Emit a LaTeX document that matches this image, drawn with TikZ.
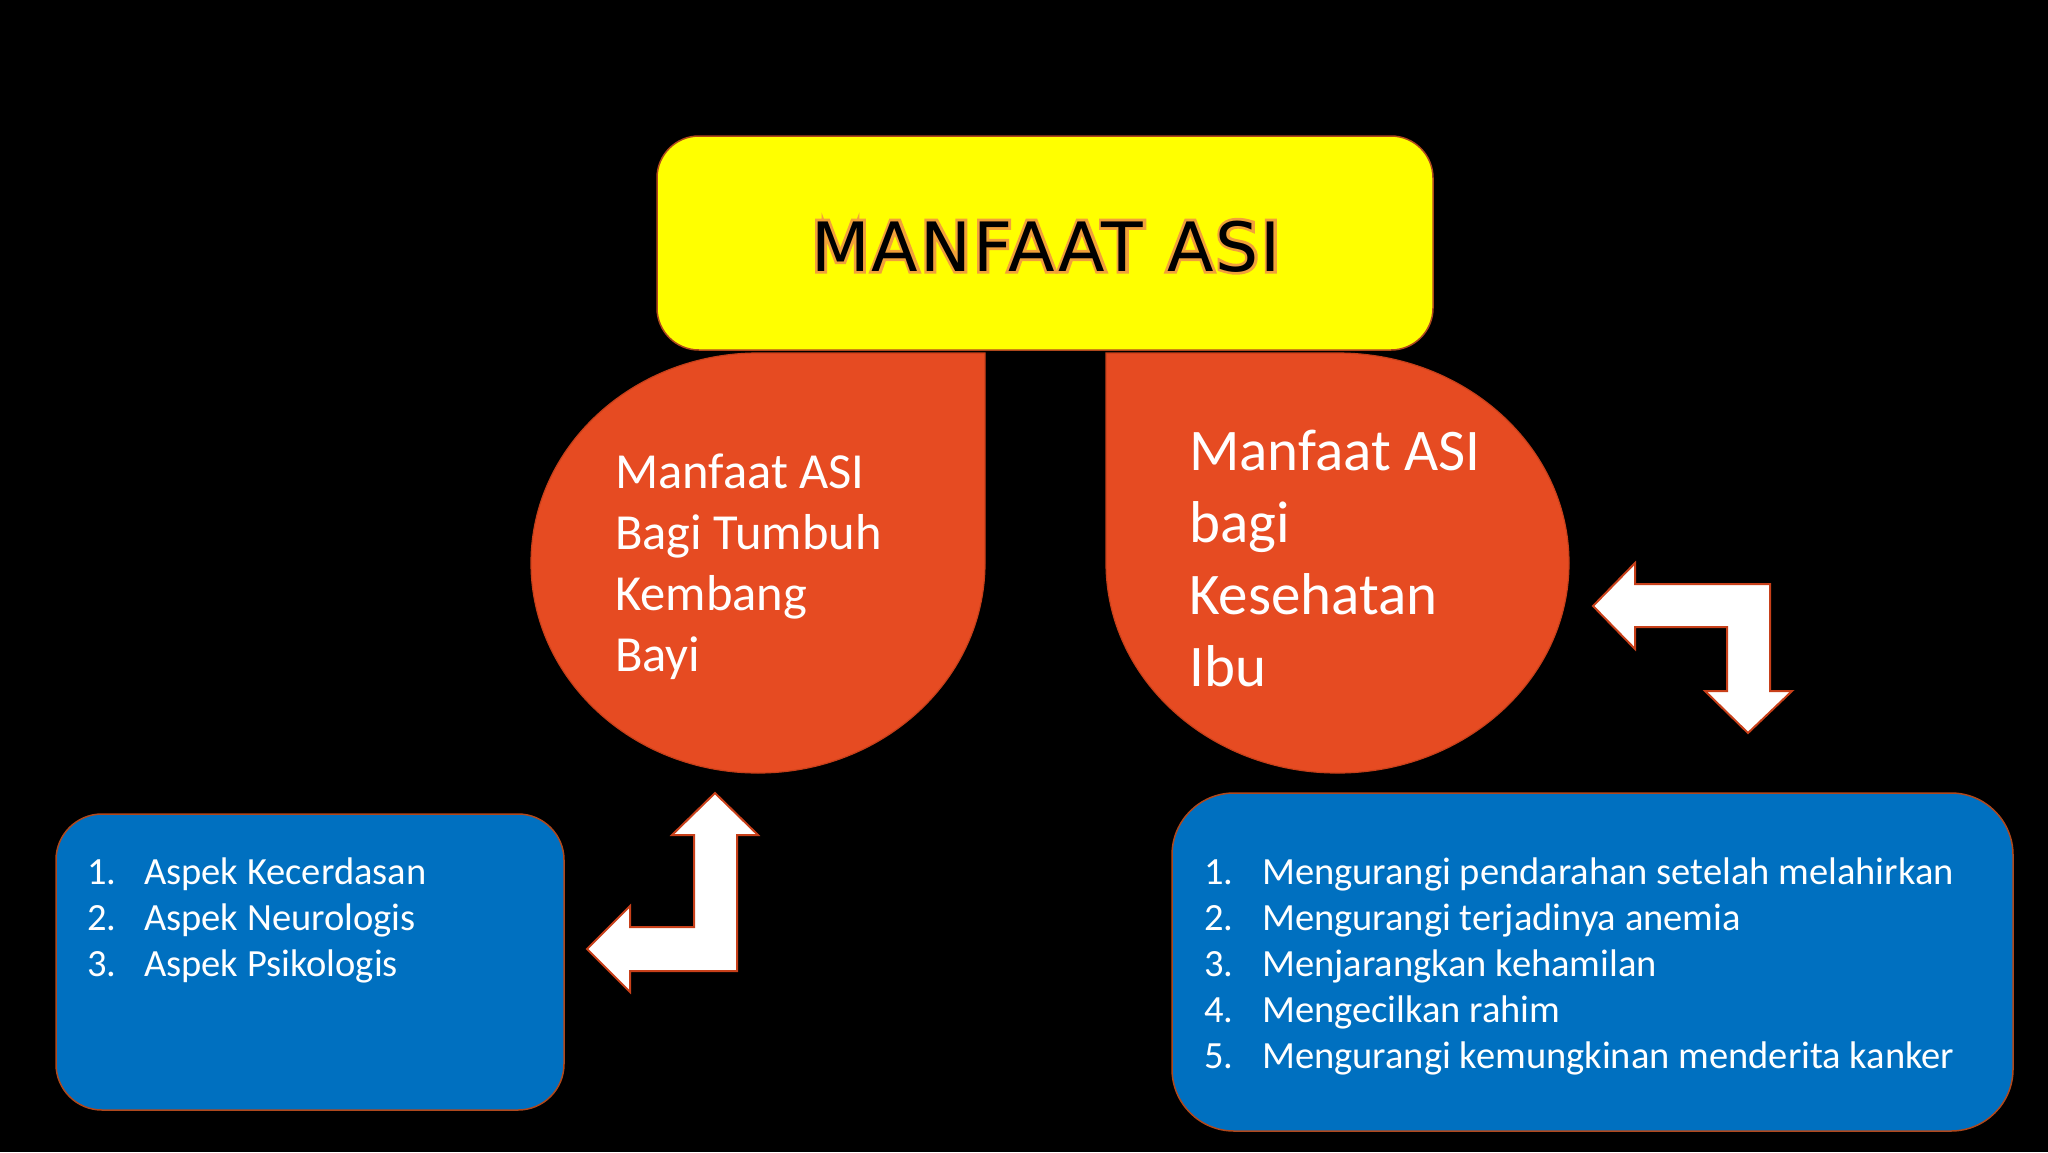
\documentclass[tikz,border=0pt]{standalone}
\usepackage{fontspec}
\setmainfont{Carlito}
\newfontfamily\titlefont[LetterSpace=3]{DejaVu Sans}
\newfontfamily\titleglowfont[LetterSpace=3,RawFeature={embolden=8}]{DejaVu Sans}
\definecolor{ybox}{HTML}{FFFF00}
\definecolor{redfill}{HTML}{E64B22}
\definecolor{rededge}{HTML}{C8401A}
\definecolor{bluefill}{HTML}{0070C0}
\definecolor{edgebrown}{HTML}{B0481C}
\definecolor{glowc}{HTML}{F2A03A}
\tikzset{
  titlebox/.style={fill=ybox,draw=edgebrown,line width=1.5pt,rounded corners=42pt},
  bluebox/.style={fill=bluefill,draw=edgebrown,line width=1.5pt},
  drop/.style={fill=redfill,draw=rededge,line width=1.2pt},
  bentarrow/.style={fill=white,draw=rededge,line width=2pt,line join=miter},
  listtxt/.style={text=white,anchor=base west,inner sep=0pt,font=\fontsize{38.5}{46}\selectfont},
  lefttxt/.style={text=white,anchor=base west,inner sep=0pt,font=\fontsize{50.5}{60}\selectfont},
  righttxt/.style={text=white,anchor=base west,inner sep=0pt,font=\fontsize{59}{70}\selectfont},
  titletxt/.style={anchor=base,inner sep=0pt}
}
\begin{document}
\begin{tikzpicture}[x=1pt,y=-1pt]
\fill[black] (0,0) rectangle (2048,1152);
\useasboundingbox (0,0) rectangle (2048,1152);
% title box
\draw[titlebox] (657,136) rectangle (1433,350);
\coordinate (tb) at (1046,271);
\node[titletxt,text=glowc,font=\titleglowfont\fontsize{68}{80}\selectfont] (glow) at (tb) {MANFAAT ASI};
\node[titletxt,text=black,font=\titlefont\fontsize{68}{80}\selectfont] (title) at (tb) {MANFAAT ASI};
% teardrops
\draw[drop] (985,353) -- (985,563) arc[start angle=0,end angle=270,x radius=227,y radius=210] -- cycle;
\draw[drop] (1106,353) -- (1106,563) arc[start angle=180,end angle=-90,x radius=231.5,y radius=210] -- cycle;
\node[lefttxt] (la) at (615,488) {Manfaat ASI};
\node[lefttxt] (lb) at (615,549) {Bagi Tumbuh};
\node[lefttxt] (lc) at (615,610) {Kembang};
\node[lefttxt] (ld) at (615,671) {Bayi};
\node[righttxt] (ra) at (1189,470) {Manfaat ASI};
\node[righttxt] (rb) at (1189,542) {bagi};
\node[righttxt] (rc) at (1189,614) {Kesehatan};
\node[righttxt] (rd) at (1189,686) {Ibu};
% blue boxes
\draw[bluebox,rounded corners=46pt] (56,814) rectangle (564,1110);
\draw[bluebox,rounded corners=62pt] (1172,793) rectangle (2013,1131);
\foreach \t [count=\i] in {Aspek Kecerdasan,Aspek Neurologis,Aspek Psikologis}{
  \node[listtxt] (ln\i) at (87,{884+46*(\i-1)}) {\i.};
  \node[listtxt] (lt\i) at (144,{884+46*(\i-1)}) {\t};
}
\foreach \t [count=\i] in {Mengurangi pendarahan setelah melahirkan,Mengurangi terjadinya anemia,Menjarangkan kehamilan,Mengecilkan rahim,Mengurangi kemungkinan menderita kanker}{
  \node[listtxt] (rn\i) at (1204,{884+46*(\i-1)}) {\i.};
  \node[listtxt] (rt\i) at (1262,{884+46*(\i-1)}) {\t};
}
% bent arrows
\draw[bentarrow] (715,793) -- (758,835) -- (737,835) -- (737,971) -- (630,971) -- (630,992) -- (587,949) -- (630,906) -- (630,927) -- (694,927) -- (694,835) -- (672,835) -- cycle;
\draw[bentarrow] (1593,606) -- (1635,563) -- (1635,584) -- (1770,584) -- (1770,691) -- (1792,691) -- (1748,733) -- (1705,691) -- (1727,691) -- (1727,627) -- (1635,627) -- (1635,649) -- cycle;
\end{tikzpicture}
\end{document}
